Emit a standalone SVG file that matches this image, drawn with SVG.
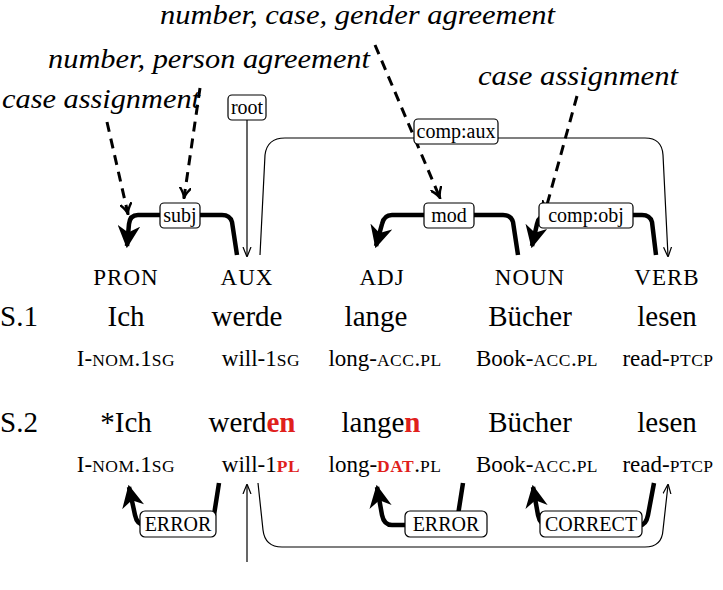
<svg xmlns="http://www.w3.org/2000/svg" width="723" height="590" viewBox="0 0 723 590">
<defs>
<marker id="ah" viewBox="0 0 10 10" refX="9" refY="5" markerWidth="5" markerHeight="5" orient="auto"><path d="M0,0 L10,5 L0,10 L3,5 Z" fill="#000"/></marker>
<marker id="ahs" viewBox="0 0 10 10" refX="9" refY="5" markerWidth="10" markerHeight="10" orient="auto" markerUnits="userSpaceOnUse"><path d="M0,1 L10,5 L0,9" fill="none" stroke="#000" stroke-width="1.2"/></marker>
<marker id="ahd" viewBox="0 0 10 10" refX="9" refY="5" markerWidth="4" markerHeight="4" orient="auto"><path d="M0,0 Q6,5 10,5 Q6,5 0,10" fill="none" stroke="#000" stroke-width="2"/></marker>
</defs>
<style>
text{font-family:"Liberation Serif","DejaVu Serif",serif;fill:#000}
.pos{font-size:23px;text-anchor:middle;letter-spacing:1px}
.w{font-size:29px;text-anchor:middle}
.g{font-size:23px;text-anchor:middle}
.sc{font-size:17.5px;letter-spacing:0.5px}
.it{font-size:28px;font-style:italic;font-family:"Liberation Serif","DejaVu Serif",serif}
.lab{font-size:20px;text-anchor:middle}
.box{fill:#fff;stroke:#000;stroke-width:1.2}
.thick{fill:none;stroke:#000;stroke-width:4.5}
.thin{fill:none;stroke:#000;stroke-width:1.2}
.dash{fill:none;stroke:#000;stroke-width:3;stroke-dasharray:10,7}
.red{fill:#e0201c;font-weight:bold}
</style>
<g id="connectors">
<path class="thick" d="M237,255 L232,222 Q230,215 222,215 L138,215 Q130,215 129,224 L127,246" marker-end="url(#ah)"/>
<path class="thin" d="M247,118 L247,256" marker-end="url(#ahs)"/>
<path class="thin" d="M260,255 L265,155 Q267,138 285,138 L645,138 Q662,138 663,155 L668,256" marker-end="url(#ahs)"/>
<path class="thick" d="M518,255 L513,222 Q511,215 503,215 L392,215 Q384,215 382,224 L376,246" marker-end="url(#ah)"/>
<path class="thick" d="M656,255 L652,222 Q650,215 642,215 L547,215 Q539,215 537,224 L532,246" marker-end="url(#ah)"/>
<path class="dash" d="M107,122 L128,214" marker-end="url(#ahd)"/>
<path class="dash" d="M200,88 L184,198" marker-end="url(#ahd)"/>
<path class="dash" d="M375,45 L440,198" marker-end="url(#ahd)"/>
<path class="dash" d="M577,96 L545,212" marker-end="url(#ahd)"/>
<path class="thick" d="M219,483 L214,515 Q212,525 204,525 L145,525 Q137,525 135,515 L129,487" marker-end="url(#ah)"/>
<path class="thin" d="M247,562 L247,485" marker-end="url(#ahs)"/>
<path class="thin" d="M258,483 L263,530 Q265,547 282,547 L645,547 Q662,547 663,530 L668,485" marker-end="url(#ahs)"/>
<path class="thick" d="M463,483 L458,515 Q456,525 446,525 L392,525 Q384,525 382,515 L377,487" marker-end="url(#ah)"/>
<path class="thick" d="M654,483 L648,515 Q646,525 640,525 L548,525 Q540,525 538,515 L533,487" marker-end="url(#ah)"/>
</g>
<g id="annotations">
<text class="it" x="2" y="108" textLength="198" lengthAdjust="spacingAndGlyphs">case assignment</text>
<text class="it" x="48" y="68" textLength="322" lengthAdjust="spacingAndGlyphs">number, person agreement</text>
<text class="it" x="160" y="24" textLength="395" lengthAdjust="spacingAndGlyphs">number, case, gender agreement</text>
<text class="it" x="478" y="85" textLength="200" lengthAdjust="spacingAndGlyphs">case assignment</text>
</g>
<g id="labels">
<rect class="box" x="160" y="203" width="40" height="25" rx="4"/><text class="lab" x="180" y="222">subj</text>
<rect class="box" x="228" y="95" width="38" height="25" rx="4"/><text class="lab" x="247" y="114">root</text>
<rect class="box" x="414" y="119" width="84" height="25" rx="4"/><text class="lab" x="456" y="138">comp:aux</text>
<rect class="box" x="424" y="203" width="50" height="25" rx="4"/><text class="lab" x="449" y="222">mod</text>
<rect class="box" x="539" y="203" width="94" height="25" rx="4"/><text class="lab" x="586" y="222">comp:obj</text>
<rect class="box" x="140" y="511" width="76" height="26" rx="5"/><text class="lab" x="178" y="531">ERROR</text>
<rect class="box" x="405" y="511" width="82" height="26" rx="5"/><text class="lab" x="446" y="531">ERROR</text>
<rect class="box" x="540" y="511" width="102" height="26" rx="5"/><text class="lab" x="591" y="531">CORRECT</text>
</g>
<g id="pos">
<text class="pos" x="126" y="285">PRON</text>
<text class="pos" x="247" y="285">AUX</text>
<text class="pos" x="382" y="285">ADJ</text>
<text class="pos" x="530" y="285">NOUN</text>
<text class="pos" x="667" y="285">VERB</text>
</g>
<g id="s1">
<text class="w" x="0" y="326" style="text-anchor:start">S.1</text>
<text class="w" x="126" y="326">Ich</text>
<text class="w" x="247" y="326">werde</text>
<text class="w" x="376" y="326">lange</text>
<text class="w" x="530" y="326">Bücher</text>
<text class="w" x="667" y="326">lesen</text>
<text class="g" x="126" y="366">I-<tspan class="sc">NOM</tspan>.1<tspan class="sc">SG</tspan></text>
<text class="g" x="261" y="366">will-1<tspan class="sc">SG</tspan></text>
<text class="g" x="385" y="366">long-<tspan class="sc">ACC</tspan>.<tspan class="sc">PL</tspan></text>
<text class="g" x="537" y="366">Book-<tspan class="sc">ACC</tspan>.<tspan class="sc">PL</tspan></text>
<text class="g" x="668" y="366">read-<tspan class="sc">PTCP</tspan></text>
</g>
<g id="s2">
<text class="w" x="0" y="432" style="text-anchor:start">S.2</text>
<text class="w" x="126" y="432">*Ich</text>
<text class="w" x="252" y="432">werd<tspan class="red">en</tspan></text>
<text class="w" x="381" y="432">lange<tspan class="red">n</tspan></text>
<text class="w" x="530" y="432">Bücher</text>
<text class="w" x="667" y="432">lesen</text>
<text class="g" x="126" y="472">I-<tspan class="sc">NOM</tspan>.1<tspan class="sc">SG</tspan></text>
<text class="g" x="261" y="472">will-1<tspan class="sc red">PL</tspan></text>
<text class="g" x="385" y="472">long-<tspan class="sc red">DAT</tspan>.<tspan class="sc">PL</tspan></text>
<text class="g" x="537" y="472">Book-<tspan class="sc">ACC</tspan>.<tspan class="sc">PL</tspan></text>
<text class="g" x="668" y="472">read-<tspan class="sc">PTCP</tspan></text>
</g>
</svg>
